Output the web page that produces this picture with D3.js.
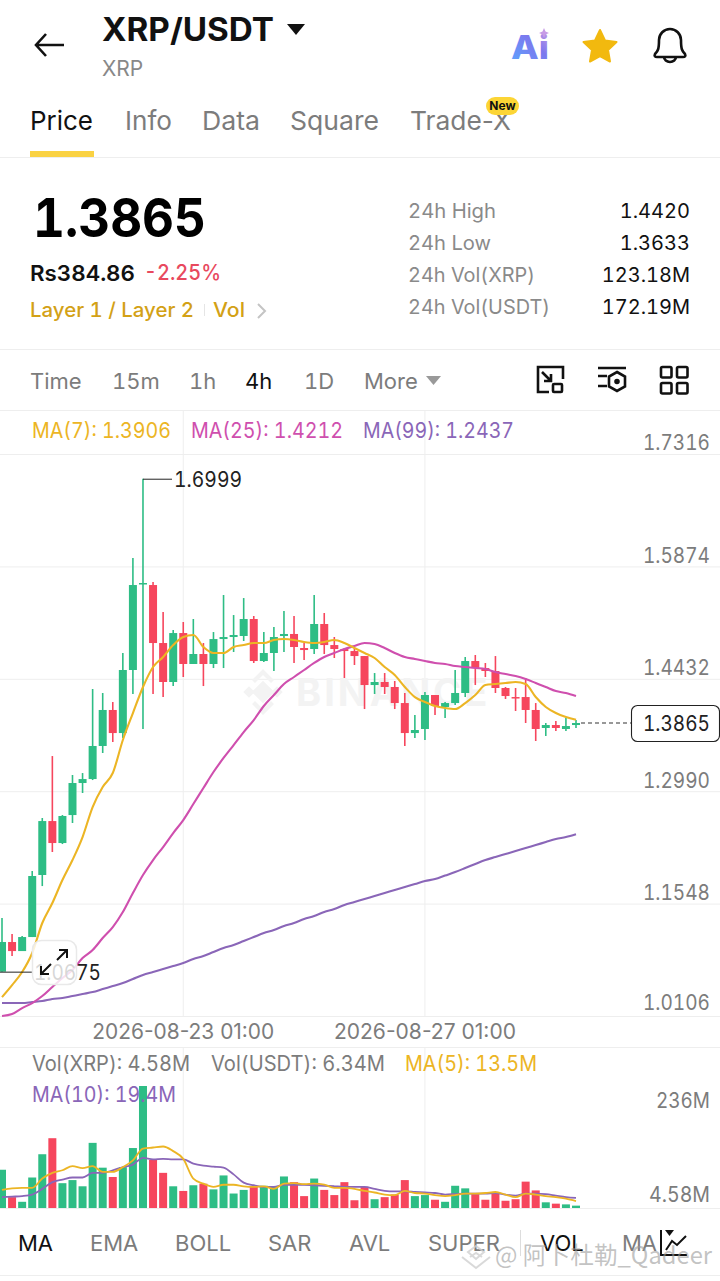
<!DOCTYPE html>
<html><head><meta charset="utf-8">
<script src="https://cdn.jsdelivr.net/npm/d3@7/dist/d3.min.js"></script>
<style>html,body{margin:0;padding:0;background:#fff;overflow:hidden}svg{display:block}text{font-family:Inter,"Noto Sans",sans-serif;font-feature-settings:"tnum" 1}</style>
</head><body><svg id="c" width="720" height="1281"></svg>
<script>
const opens=[1.0675,1.1055,1.0939,1.1119,1.1915,1.2607,1.2325,1.2684,1.3095,1.3146,1.3570,1.4032,1.3736,1.4545,1.5648,1.5635,1.4891,1.4391,1.5019,1.4622,1.4750,1.4622,1.4942,1.4968,1.4981,1.5199,1.4660,1.4763,1.4981,1.5007,1.4827,1.4814,1.5135,1.4865,1.4814,1.4788,1.4724,1.4352,1.4391,1.4327,1.4121,1.3736,1.3788,1.4224,1.4070,1.4121,1.4250,1.4660,1.4570,1.4532,1.4314,1.4198,1.4198,1.4032,1.3801,1.3839,1.3788,1.3839];
const highs=[1.1363,1.1158,1.1132,1.1966,1.2646,1.3441,1.2684,1.3198,1.3223,1.4301,1.4250,1.4134,1.4763,1.5982,1.6999,1.5674,1.5289,1.5058,1.5161,1.5199,1.4891,1.5032,1.5507,1.5250,1.5468,1.5238,1.5032,1.5096,1.5302,1.5238,1.4891,1.5507,1.5276,1.4968,1.4827,1.4827,1.4724,1.4506,1.4506,1.4404,1.4250,1.3967,1.4262,1.4224,1.4134,1.4545,1.4712,1.4737,1.4635,1.4724,1.4327,1.4314,1.4442,1.4121,1.3865,1.3890,1.3929,1.3903];
const lows=[1.0675,1.0875,1.0939,1.1119,1.1773,1.2210,1.2312,1.2582,1.2967,1.3133,1.3480,1.3621,1.3672,1.4237,1.3788,1.4237,1.4198,1.4339,1.4455,1.4622,1.4339,1.4570,1.4570,1.4776,1.4917,1.4635,1.4647,1.4532,1.4776,1.4635,1.4673,1.4750,1.4750,1.4699,1.4442,1.4609,1.4044,1.4237,1.4237,1.4044,1.3570,1.3672,1.3647,1.3967,1.3929,1.4096,1.4198,1.4352,1.4455,1.4250,1.4173,1.4019,1.3865,1.3634,1.3698,1.3762,1.3762,1.3801];
const closes=[1.1055,1.0939,1.1119,1.1902,1.2607,1.2325,1.2672,1.3095,1.3146,1.3570,1.4032,1.3736,1.4545,1.5635,1.5661,1.4891,1.4391,1.5019,1.4622,1.4750,1.4622,1.4942,1.4968,1.4994,1.5199,1.4660,1.4763,1.4968,1.5007,1.4840,1.4801,1.5135,1.4865,1.4814,1.4788,1.4724,1.4352,1.4391,1.4327,1.4121,1.3736,1.3775,1.4224,1.4083,1.4121,1.4250,1.4660,1.4570,1.4532,1.4314,1.4211,1.4185,1.4032,1.3788,1.3839,1.3801,1.3826,1.3865];
const ma7=[1.0349,1.0503,1.0670,1.0914,1.1299,1.1555,1.1850,1.2107,1.2402,1.2787,1.3044,1.3223,1.3647,1.3993,1.4327,1.4583,1.4712,1.4865,1.4968,1.4994,1.4840,1.4763,1.4763,1.4840,1.4865,1.4891,1.4891,1.4930,1.4942,1.4930,1.4904,1.4891,1.4904,1.4930,1.4891,1.4827,1.4763,1.4699,1.4583,1.4481,1.4327,1.4198,1.4134,1.4083,1.4057,1.4044,1.4121,1.4224,1.4352,1.4365,1.4378,1.4391,1.4365,1.4198,1.4070,1.3993,1.3942,1.3906];
const ma25=[1.0106,1.0131,1.0208,1.0272,1.0362,1.0478,1.0593,1.0696,1.0850,1.0952,1.1106,1.1247,1.1440,1.1684,1.1915,1.2107,1.2274,1.2453,1.2620,1.2825,1.3031,1.3236,1.3416,1.3582,1.3749,1.3903,1.4083,1.4224,1.4365,1.4455,1.4545,1.4635,1.4712,1.4763,1.4814,1.4853,1.4891,1.4878,1.4827,1.4763,1.4712,1.4686,1.4660,1.4635,1.4622,1.4596,1.4583,1.4570,1.4558,1.4519,1.4493,1.4468,1.4429,1.4378,1.4327,1.4275,1.4250,1.4212];
const ma99=[1.0272,1.0272,1.0272,1.0285,1.0298,1.0324,1.0336,1.0362,1.0388,1.0413,1.0452,1.0490,1.0529,1.0580,1.0632,1.0670,1.0709,1.0747,1.0786,1.0837,1.0875,1.0927,1.0978,1.1016,1.1068,1.1119,1.1170,1.1209,1.1260,1.1299,1.1350,1.1389,1.1440,1.1478,1.1530,1.1568,1.1607,1.1645,1.1684,1.1722,1.1761,1.1799,1.1838,1.1863,1.1908,1.1953,1.2004,1.2056,1.2107,1.2146,1.2184,1.2222,1.2261,1.2299,1.2338,1.2376,1.2402,1.2437];
const volumes=[74,21,12,59,104,135,48,54,42,126,78,60,79,116,236,93,68,42,33,44,47,36,63,28,35,41,43,42,61,50,23,57,35,25,50,15,41,17,21,26,54,23,25,16,12,43,38,27,16,29,14,17,51,34,11,8.4,7,4.58];
const volMa5=[35,38,39,39,57,68,73,81,77,81,70,70,79,92,115,117,119,110,95,57,47,41,45,45,42,41,42,37,47,48,46,47,45,39,39,37,33,30,26,25,33,29,28,25,23,25,28,28,29,31,26,21,28,26,23,21,18,13.5];
const volMa10=[21,22,23,26,37,50,55,59,59,68,68,73,79,84,97,94,95,94,94,86,82,80,78,65,49,44,41,41,45,45,45,44,43,42,41,41,41,37,33,32,32,31,30,29,26,27,28,28,28,29,26,24,28,28,27,24,21,19.4];
const priceTicks=[1.7316,1.5874,1.4432,1.2990,1.1548,1.0106];
const dateTicks=[[18,"2026-08-23 01:00"],[42,"2026-08-27 01:00"]];
const volTickLabels=[[236,"236M"],[4.58,"4.58M"]];
const GREEN="#2ebd85",RED="#f6465d",YEL="#ecb524",MAG="#cf4fae",PUR="#8a66b8",GREY="#7c7c7c";

const svg=d3.select("#c");
function T(x,y,s,o={}){const t=svg.append("text").attr("x",x).attr("y",y).attr("dy",".35em").text(s)
 .attr("font-size",o.fs||21).attr("fill",o.c||GREY).attr("font-weight",o.w||400).attr("text-anchor",o.a||"start");
 if(o.len)t.attr("textLength",o.len).attr("lengthAdjust","spacingAndGlyphs");
 if(o.plain)t.style("font-feature-settings","normal");return t}
function L(x1,y1,x2,y2,c="#eeeeee",w=1){svg.append("line").attr("x1",x1).attr("y1",y1).attr("x2",x2).attr("y2",y2).attr("stroke",c).attr("stroke-width",w)}

const x=d3.scaleLinear().domain([0,57]).range([2,576]);
const y=d3.scaleLinear().domain([1.0106,1.7316]).range([1016,454]);
const vy=d3.scaleLinear().domain([0,236]).range([1208,1086]);

[157,349,410,1047,1208,1275].forEach(v=>L(0,v+.5,720,v+.5,"#eeeeee",1));

const ax=svg.append("g").call(d3.axisRight(y).tickValues(priceTicks).tickSize(720).tickFormat(d=>d.toFixed(4)));
ax.select(".domain").remove();
ax.selectAll("line").attr("stroke","#eeeeee");
ax.selectAll("text").attr("x",710).attr("text-anchor","end").attr("dy",(d,i)=>i==5?"-.3em":"-.2em").attr("font-size",21).attr("fill",GREY).attr("font-family",null).attr("textLength",67).attr("lengthAdjust","spacingAndGlyphs");
dateTicks.forEach(([i,s])=>{
  L(x(i),410,x(i),1016);L(x(i),1047,x(i),1208);
  T(x(i),1032,s,{a:"middle",fs:21,len:182,plain:1});
});

const wm=svg.append("g").attr("fill","#f3f3f3");
wm.append("text").attr("x",296).attr("y",706).attr("font-size",38).attr("font-weight",700).attr("letter-spacing",3).text("BINANCE");
[[263,692,8],[249,692,4],[277,692,4]].forEach(([a,b,r])=>wm.append("rect").attr("x",a-r).attr("y",b-r).attr("width",2*r).attr("height",2*r).attr("transform",`rotate(45 ${a} ${b})`));
wm.append("path").attr("d","M263 669l11 11-3 3-8-8-8 8-3-3zM263 715l11-11-3-3-8 8-8-8-3 3z");

const idx=d3.range(opens.length);
const cg=svg.append("g");
idx.forEach(i=>{
  const col=closes[i]>=opens[i]?GREEN:RED;
  cg.append("line").attr("x1",x(i)).attr("x2",x(i)).attr("y1",y(highs[i])).attr("y2",y(lows[i])).attr("stroke",col).attr("stroke-width",1.6);
  const t=y(Math.max(opens[i],closes[i])),b=y(Math.min(opens[i],closes[i]));
  cg.append("rect").attr("x",x(i)-4).attr("width",8).attr("y",t).attr("height",Math.max(b-t,1.5)).attr("fill",col);
});
const ln=d3.line().x((d,i)=>x(i)).y(d=>y(d)).curve(d3.curveMonotoneX);
[[ma99,PUR],[ma25,MAG],[ma7,YEL]].forEach(([a,c])=>svg.append("path").attr("d",ln(a)).attr("fill","none").attr("stroke",c).attr("stroke-width",2.1).attr("stroke-linejoin","round"));

L(x(14),y(1.6999)+.5,172,y(1.6999)+.5,"#222",1);
T(174,y(1.6999)+1,"1.6999",{fs:21,c:"#222",len:68});
L(0,y(1.0675)+.5,33,y(1.0675)+.5,"#222",1);
T(34,y(1.0675)+1.5,"1.0675",{fs:21,c:"#222",len:67});

svg.append("rect").attr("x",32.5).attr("y",940.5).attr("width",44).attr("height",44).attr("rx",9).attr("fill","#fff").attr("fill-opacity",.82).attr("stroke","#e9e9e9").attr("stroke-width",1.5);
svg.append("path").attr("d","M57 960L67 950M59 950h8v8M51 964L41 974M41 966v8h8").attr("fill","none").attr("stroke","#111").attr("stroke-width",2);

svg.append("line").attr("x1",581).attr("x2",632).attr("y1",y(1.3865)).attr("y2",y(1.3865)).attr("stroke","#777").attr("stroke-width",1.3).attr("stroke-dasharray","4 3");
svg.append("rect").attr("x",631.5).attr("y",705.5).attr("width",88).attr("height",36).attr("rx",6).attr("fill","#fff").attr("stroke","#222").attr("stroke-width",1.1);
T(676.5,724,"1.3865",{a:"middle",fs:21,c:"#222",len:67});

T(32,431,"MA(7): 1.3906",{c:YEL,len:139});T(191,431,"MA(25): 1.4212",{c:MAG,len:152});T(363,431,"MA(99): 1.2437",{c:PUR,len:151});
T(32,1063.5,"Vol(XRP): 4.58M",{len:158});T(211,1063.5,"Vol(USDT): 6.34M",{len:174});T(405,1063.5,"MA(5): 13.5M",{c:YEL,len:132});

idx.forEach(i=>svg.append("rect").attr("x",x(i)-4).attr("width",8).attr("y",vy(volumes[i])).attr("height",vy(0)-vy(volumes[i])).attr("fill",closes[i]>=opens[i]?GREEN:RED));
const vln=d3.line().x((d,i)=>x(i)).y(d=>vy(d)).curve(d3.curveMonotoneX);
[[volMa10,PUR],[volMa5,YEL]].forEach(([a,c])=>svg.append("path").attr("d",vln(a)).attr("fill","none").attr("stroke",c).attr("stroke-width",1.8));
T(32,1095,"MA(10): 19.4M",{c:PUR,len:144});
T(710,1100.5,volTickLabels[0][1],{a:"end",len:54});T(710,1194.5,volTickLabels[1][1],{a:"end",len:61});

svg.append("path").attr("d","M64 45H36M46 34L36 45L46 56").attr("fill","none").attr("stroke","#111").attr("stroke-width",2.6);
T(102,30,"XRP/USDT",{fs:32,w:700,c:"#111",len:172});
svg.append("path").attr("d","M287 24h18l-9 11z").attr("fill","#111");
T(102,69,"XRP",{fs:21,c:"#888"});
const grad=svg.append("defs").append("linearGradient").attr("id","ai").attr("x1",0).attr("x2",1).attr("y1",1).attr("y2",0);
grad.append("stop").attr("offset",0).attr("stop-color","#5aa8ff");grad.append("stop").attr("offset",.6).attr("stop-color","#7c78ee");grad.append("stop").attr("offset",1).attr("stop-color","#d8a0e0");
T(511,47,"Ai",{fs:33,w:800,len:38}).attr("fill","url(#ai)");
svg.append("path").attr("d","M544 28l1.5 3.5 3.5 1.5-3.5 1.5-1.5 3.5-1.5-3.5-3.5-1.5 3.5-1.5z").attr("fill","#c79be6");
svg.append("path").attr("d","M600 30l5 10.5 11.500 1.500-8.500 8 2 11.500-10-5.500-10 5.500 2-11.500-8.500-8 11.500-1.500z").attr("fill","#f2b90f").attr("stroke","#f2b90f").attr("stroke-width",2).attr("stroke-linejoin","round");
svg.append("path").attr("d","M655 54c3-3 4-5 4-14a11 11 0 0 1 22 0c0 9 1 11 4 14c1 2 0 3-2 3h-26c-2 0-3-1-2-3zM664 57a6 5 0 0 0 12 0").attr("fill","none").attr("stroke","#111").attr("stroke-width",2.6);

[["Price",30,"#111",63],["Info",125,0,47],["Data",202,0,58],["Square",290,0,89],["Trade-X",410,0,101]].forEach(([s,a,c,l])=>T(a,120.5,s,{fs:26,c:c||GREY,len:l,plain:1}));
svg.append("rect").attr("x",30).attr("y",151).attr("width",64).attr("height",6).attr("fill","#fad243");
svg.append("rect").attr("x",486).attr("y",97).attr("width",33).attr("height",18).attr("rx",9).attr("fill","#fcd535");
T(502.5,106,"New",{fs:12,w:700,a:"middle",c:"#111"});

T(33,218.5,"1.3865",{fs:54,w:700,c:"#000",len:173});
T(30,273,"Rs384.86",{fs:22,w:600,c:"#111",len:105});T(144,273,"-2.25%",{fs:21,w:500,c:"#e8495e",len:77});
T(30,310,"Layer 1 / Layer 2",{fs:20,w:500,c:"#d3a116",len:164});L(204.5,304,204.5,316,"#e5e5e5",1);T(213,310,"Vol",{fs:20,w:500,c:"#d3a116",len:32});
svg.append("path").attr("d","M258 304l7 7-7 7").attr("fill","none").attr("stroke","#c4c4c4").attr("stroke-width",2);
[["24h High","1.4420",211,88],["24h Low","1.3633",243,83],["24h Vol(XRP)","123.18M",275,127],["24h Vol(USDT)","172.19M",307,142]].forEach(([a,b,v,l])=>{T(408,v,a,{fs:20,c:"#8a8a8a",len:l});T(690,v,b,{fs:20,a:"end",c:"#111"})});

[["Time",30],["15m",112],["1h",189],["4h",245,"#111"],["1D",304],["More",364]].forEach(([s,a,c])=>T(a,381,s,{fs:22,c:c||GREY}));
svg.append("path").attr("d","M426 376h15l-7.5 9z").attr("fill","#999");
const ic=svg.append("g").attr("fill","none").attr("stroke","#111").attr("stroke-width",2.6);
ic.append("path").attr("d","M549 392h-11v-25h25v12M542 372l9 9M551 374v7h-7");
ic.append("rect").attr("x",553).attr("y",384).attr("width",9).attr("height",8).attr("rx",1);
ic.append("path").attr("d","M598 368h28M598 376h9M598 386h9M617 372l8 4.5v10l-8 4.5-8-4.5v-10z");
ic.append("circle").attr("cx",617).attr("cy",381.5).attr("r",1.5).attr("fill","#111");
[[661,367],[677,367],[661,383],[677,383]].forEach(([a,b])=>ic.append("rect").attr("x",a).attr("y",b).attr("width",10.5).attr("height",10.5).attr("rx",1.5));

[["MA",18,"#111"],["EMA",90],["BOLL",175],["SAR",268],["AVL",349],["SUPER",428],["VOL",540,"#111"],["MA",622]].forEach(([s,a,c])=>T(a,1243,s,{fs:22,c:c||GREY}));
L(520.5,1230,520.5,1256,"#ddd",1);
svg.append("path").attr("d","M661 1230v25h26M666 1250l6-9 5 4 9-9").attr("fill","none").attr("stroke","#111").attr("stroke-width",2);
svg.append("path").attr("d","M665 1230h9l-4.5 6z").attr("fill","#111");

svg.append("text").attr("x",495).attr("y",1264).attr("font-size",24).attr("fill","#9a9a9a").attr("fill-opacity",.6).attr("textLength",217).attr("lengthAdjust","spacingAndGlyphs").style("font-family","'Noto Sans CJK SC'").text("@ 阿卜杜勒_Qadeer");
svg.append("path").attr("d","M476 1246l8 6-8 7-8-7zM462 1257l14 11 14-11M470 1257l6-4 6 4").attr("fill","none").attr("stroke","#cfcfcf").attr("stroke-width",2).attr("stroke-opacity",.8);
</script></body></html>
